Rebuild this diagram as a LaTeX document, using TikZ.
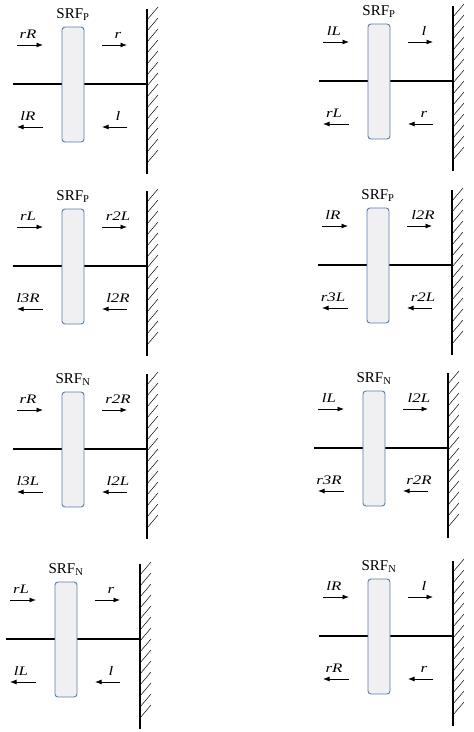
\documentclass[tikz,border=0pt]{standalone}
\usepackage{fontspec}
\setmainfont{Liberation Serif}
\usetikzlibrary{arrows.meta}
\tikzset{>={Latex[length=6.5pt,width=5pt]}}
\definecolor{rimblue}{HTML}{5A7DAA}
\definecolor{cavgray}{HTML}{F0F0F2}
\tikzset{
  wall/.style={line width=2.4pt},
  hatch/.style={line width=0.5pt},
  axis/.style={line width=1.3pt},
  cavity/.style={draw=rimblue, fill=cavgray, line width=0.9pt, rounded corners=3pt},
  beam/.style={->, line width=0.8pt},
  tag/.style={font=\fontsize{13}{15}\selectfont\itshape, inner sep=0pt, anchor=base,
    xscale=1.3, transform shape},
  srf/.style={font=\fontsize{15}{17}\selectfont, inner sep=0pt, anchor=base},
}
% #1 name, #2 origin (wall, axis), #3 subscript, #4..#7 labels
\newcommand*{\srfpanel}[7]{%
  \begin{scope}[shift={#2}]
    \draw[wall](0, -75)--(0, 90);
    \foreach \y in {-64, -53, ..., 86}
      \draw[hatch](0, \y)--++(11, -13);
    \draw[axis](-134, 0)--(0, 0);
    \draw[cavity](-85, -57)rectangle(-63, 58);
    \node[srf] (#1s) at (-74, -66) {SRF\textsubscript{#3}};
    \draw[beam](-130, -39)--(-104, -39);
    \draw[beam](-45, -39)--(-20, -39);
    \draw[beam](-104, 43)--(-130, 43);
    \draw[beam](-20, 43)--(-45, 43);
    \node[tag] (#1a) at (-119, -46) {#4};
    \node[tag] (#1b) at (-29, -46) {#5};
    \node[tag] (#1c) at (-119, 36) {#6};
    \node[tag] (#1d) at (-29, 36) {#7};
  \end{scope}}

\begin{document}
\begin{tikzpicture}[x=1pt, y=-1pt]
    \useasboundingbox(0, 0)rectangle(474, 732);
    \srfpanel{p1}{(147, 84)}{P}{rR}{r}{lR}{l}
    \srfpanel{p2}{(453, 81)}{P}{lL}{l}{rL}{r}
    \srfpanel{p3}{(147, 266)}{P}{rL}{r2L}{l3R}{l2R}
    \srfpanel{p4}{(452, 265)}{P}{lR}{l2R}{r3L}{r2L}
    \srfpanel{p5}{(147, 449)}{N}{rR}{r2R}{l3L}{l2L}
    \srfpanel{p6}{(448, 448)}{N}{lL}{l2L}{r3R}{r2R}
    \srfpanel{p7}{(140, 639)}{N}{rL}{r}{lL}{l}
    \srfpanel{p8}{(453, 636)}{N}{lR}{l}{rR}{r}
\end{tikzpicture}
\end{document}
